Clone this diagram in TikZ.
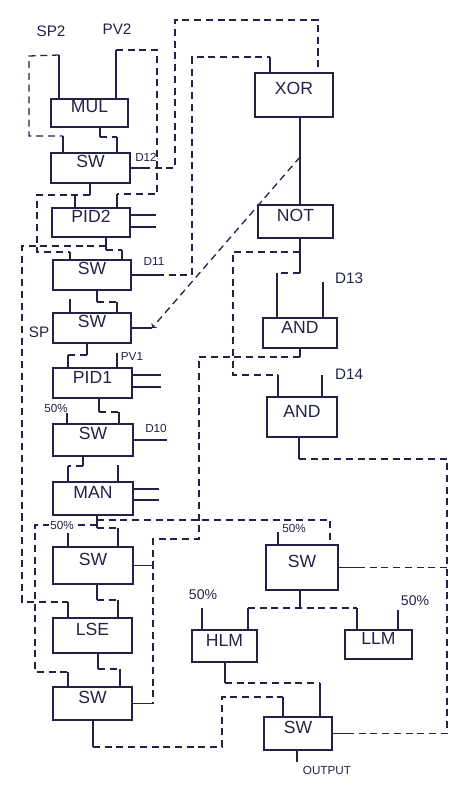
\documentclass[tikz,border=0pt]{standalone}
\usepackage{fontspec}
\setmainfont{Liberation Sans}
\usetikzlibrary{fit}
\definecolor{pen}{RGB}{34,34,72}
\tikzset{
  blk/.style={draw=pen, line width=1.1pt, inner sep=0pt, text=pen, font=\fontsize{15}{18}\selectfont},
  wire/.style={draw=pen, line width=1.1pt},
  sig/.style={draw=pen, line width=1.1pt, dash pattern=on 6pt off 4pt},
  lbl/.style={text=pen, inner sep=1pt, font=\fontsize{10}{12}\selectfont},
  big/.style={lbl, font=\fontsize{13}{15}\selectfont},
}
\begin{document}
\begin{tikzpicture}[x=0.03cm, y=-0.03cm]
\useasboundingbox (0,0) rectangle (474,793);
% blocks
\node[blk, fit={(51,99) (128,127)}] (mul) {MUL};
\node[blk, fit={(51,153) (130,183)}] (swa) {SW};
\node[blk, fit={(52,208) (130,237)}] (pidb) {PID2};
\node[blk, fit={(53,260) (131,290)}] (swb) {SW};
\node[blk, fit={(53,313) (131,343)}] (swc) {SW};
\node[blk, fit={(53,368) (132,398)}] (pida) {PID1};
\node[blk, fit={(53,424) (133,456)}] (swd) {SW};
\node[blk, fit={(53,482) (133,515)}] (man) {MAN};
\node[blk, fit={(53,547) (133,584)}] (swe) {SW};
\node[blk, fit={(53,618) (132,653)}] (lse) {LSE};
\node[blk, fit={(53,687) (132,720)}] (swf) {SW};
\node[blk, fit={(255,73) (333,117)}] (xor) {XOR};
\node[blk, fit={(258,205) (333,238)}] (notb) {NOT};
\node[blk, fit={(263,318) (337,348)}] (anda) {AND};
\node[blk, fit={(267,397) (337,437)}] (andb) {AND};
\node[blk, fit={(266,545) (338,590)}] (swg) {SW};
\node[blk, fit={(192,630) (257,662)}] (hlm) {HLM};
\node[blk, fit={(345,630) (412,659)}] (llm) {LLM};
\node[blk, fit={(264,717) (332,750)}] (swh) {SW};
% left column
\draw[wire] (59,55) -- (59,0 |- mul.north);
\draw[sig] (59,55) -- (29,56) -- (29,136) -- (63,136);
\draw[wire] (63,136) -- (63,0 |- swa.north);
\draw[wire] (116,50) -- (116,0 |- mul.north);
\draw[sig] (116,50) -- (157,50) -- (157,194) -- (117,194);
\draw[wire] (117,194) -- (117,0 |- pidb.north);
\draw[wire] (100,0 |- mul.south) -- (100,137);
\draw[sig] (100,137) -- (117,137);
\draw[wire] (117,137) -- (117,0 |- swa.north);
\draw[wire] (swa.east) -- (143,168);
\draw[sig] (143,168) -- (175,168) -- (175,20) -- (318,20) -- (318,0 |- xor.north);
\draw[wire] (90,0 |- swa.south) -- (90,195);
\draw[sig] (90,195) -- (37,195) -- (37,252) -- (70,252);
\draw[wire] (75,195) -- (75,0 |- pidb.north);
\draw[wire] (70,252) -- (70,0 |- swb.north);
\draw[wire] (pidb.east |- 0,215) -- +(25,0);
\draw[wire] (pidb.east |- 0,227) -- +(25,0);
\draw[wire] (106,0 |- pidb.south) -- (106,250);
\draw[sig] (106,250) -- (122,250);
\draw[wire] (122,250) -- (122,0 |- swb.north);
\draw[sig] (106,246) -- (22,246) -- (22,602) -- (68,602);
\draw[wire] (68,602) -- (68,0 |- lse.north);
\draw[wire] (swb.east) -- (157,275);
\draw[sig] (157,275) -- (192,275) -- (192,57) -- (270,57);
\draw[wire] (270,57) -- (270,0 |- xor.north);
\draw[wire] (97,0 |- swb.south) -- (97,302);
\draw[sig] (97,302) -- (117,302);
\draw[wire] (117,302) -- (117,0 |- swc.north);
\draw[wire] (70,299) -- (70,0 |- swc.north);
\draw[wire] (swc.east) -- (152,328) coordinate (swcin);
\draw[wire] (87,0 |- swc.south) -- (87,355);
\draw[sig] (87,355) -- (68,355);
\draw[wire] (68,355) -- (68,0 |- pida.north);
\draw[wire] (117,353) -- (117,0 |- pida.north);
\draw[wire] (pida.east |- 0,375) -- +(28,0);
\draw[wire] (pida.east |- 0,387) -- +(28,0);
\draw[wire] (99,0 |- pida.south) -- (99,412);
\draw[sig] (99,412) -- (119,412);
\draw[wire] (119,412) -- (119,0 |- swd.north);
\draw[wire] (67,413) -- (67,0 |- swd.north);
\draw[wire] (swd.east) -- (167,440);
\draw[wire] (83,0 |- swd.south) -- (83,466);
\draw[sig] (83,466) -- (68,466);
\draw[wire] (68,466) -- (68,0 |- man.north);
\draw[wire] (118,465) -- (118,0 |- man.north);
\draw[wire] (man.east |- 0,489) -- +(25,0);
\draw[wire] (man.east |- 0,500) -- +(25,0);
\draw[wire] (97,0 |- man.south) -- (97,528);
\draw[sig] (97,525) -- (35,525) -- (35,672) -- (68,672);
\draw[wire] (68,672) -- (68,0 |- swf.north);
\draw[sig] (97,528) -- (118,528);
\draw[wire] (118,528) -- (118,0 |- swe.north);
\draw[sig] (97,520) -- (330,520) -- (330,0 |- swg.north);
\draw[wire] (68,533) -- (68,0 |- swe.north);
\draw[wire] (97,0 |- swe.south) -- (97,600);
\draw[sig] (97,600) -- (118,600);
\draw[wire] (118,600) -- (118,0 |- lse.north);
\draw[wire] (swe.east) -- (153,0 |- swe.east);
\draw[wire] (98,0 |- lse.south) -- (98,669);
\draw[sig] (98,669) -- (120,669);
\draw[wire] (120,669) -- (120,0 |- swf.north);
\draw[wire] (93,0 |- swf.south) -- (93,747);
\draw[sig] (93,747) -- (222,747) -- (222,697) -- (283,697);
\draw[wire] (283,697) -- (283,0 |- swh.north);
\draw[wire] (swf.east) -- (153,0 |- swf.east);
% right column
\draw[wire] (300,0 |- xor.south) -- (300,0 |- notb.north);
\draw[sig, ->] (300,157) -- (swcin);
\draw[wire] (300,0 |- notb.south) -- (300,273);
\draw[sig] (300,273) -- (277,273);
\draw[wire] (277,273) -- (277,0 |- anda.north);
\draw[sig] (300,252) -- (233,252) -- (233,375) -- (278,375);
\draw[wire] (278,375) -- (278,0 |- andb.north);
\draw[wire] (323,282) -- (323,0 |- anda.north);
\draw[wire] (322,375) -- (322,0 |- andb.north);
\draw[wire] (300,0 |- anda.south) -- (300,357);
\draw[sig] (300,357) -- (199,357) -- (199,539) -- (153,539) -- (153,0 |- swf.east);
\draw[wire] (299,0 |- andb.south) -- (299,459);
\draw[sig] (299,459) -- (447,459) -- (447,0 |- swh.east) -- (348,0 |- swh.east);
\draw[wire] (348,0 |- swh.east) -- (swh.east);
\draw[sig] (447,0 |- swg.east) -- (362,0 |- swg.east);
\draw[wire] (362,0 |- swg.east) -- (swg.east);
\draw[wire] (278,532) -- (278,0 |- swg.north);
\draw[wire] (300,0 |- swg.south) -- (300,608);
\draw[sig] (248,608) -- (357,608);
\draw[wire] (248,608) -- (248,0 |- hlm.north);
\draw[wire] (357,608) -- (357,0 |- llm.north);
\draw[wire] (202,608) -- (202,0 |- hlm.north);
\draw[wire] (398,610) -- (398,0 |- llm.north);
\draw[wire] (225,0 |- hlm.south) -- (225,683);
\draw[sig] (225,683) -- (320,683);
\draw[wire] (320,683) -- (320,0 |- swh.north);
\draw[wire] (297,0 |- swh.south) -- (297,762);
% labels
\node[big] (sp2) at (51,31) {SP2};
\node[big] (pv2) at (117,29) {PV2};
\node[lbl] (d12) at (146,157) {D12};
\node[lbl] (d11) at (154,261) {D11};
\node[big] (sp) at (39,332) {SP};
\node[lbl] (pv1) at (132,356) {PV1};
\node[lbl] (p50a) at (56,408) {50\%};
\node[lbl] (d10) at (156,428) {D10};
\node[lbl, fill=white] (p50b) at (62,525) {50\%};
\node[big] (d13) at (349,278) {D13};
\node[big] (d14) at (349,374) {D14};
\node[lbl] (p50c) at (294,528) {50\%};
\node[big, font=\fontsize{12}{14}\selectfont] (p50d) at (203,595) {50\%};
\node[big, font=\fontsize{12}{14}\selectfont] (p50e) at (415,601) {50\%};
\node[lbl] (outp) at (327,770) {OUTPUT};
\end{tikzpicture}
\end{document}
